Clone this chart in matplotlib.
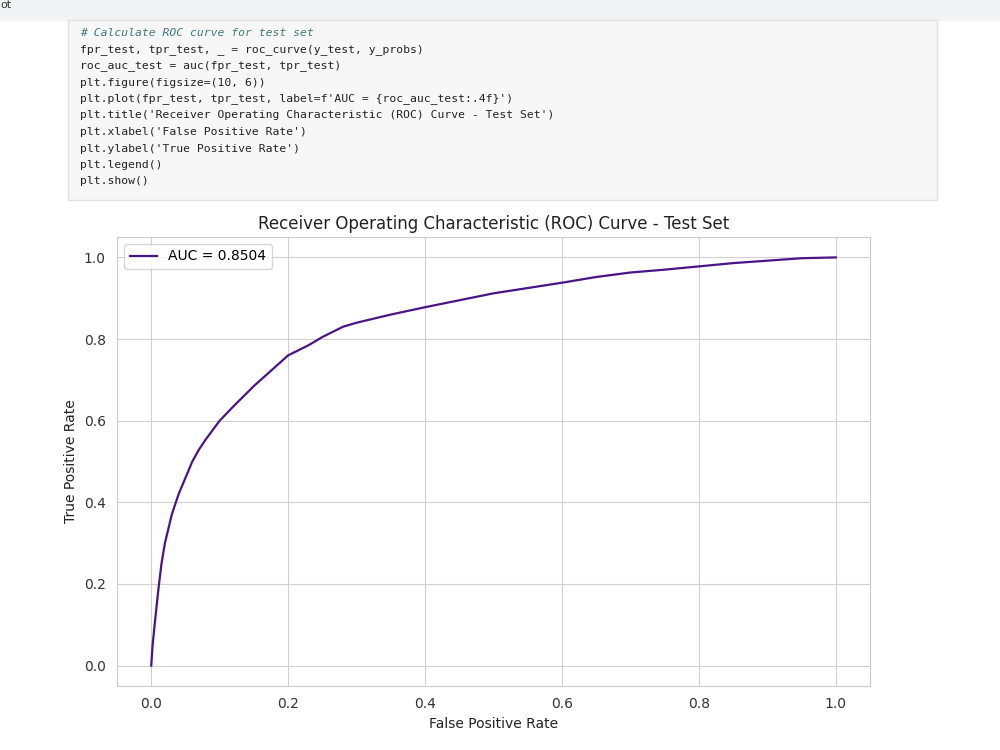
import matplotlib
matplotlib.use("Agg")
import matplotlib.pyplot as plt
from matplotlib.patches import Rectangle

fpr = [0, 0.002, 0.005, 0.01, 0.015, 0.02, 0.03, 0.04, 0.05, 0.06, 0.07, 0.08, 0.1, 0.12, 0.15, 0.18, 0.2,
       0.23, 0.25, 0.28, 0.3, 0.35, 0.4, 0.45, 0.5, 0.55, 0.6, 0.65, 0.7, 0.75, 0.8, 0.85, 0.9, 0.95, 1.0]
tpr = [0, 0.05, 0.1, 0.18, 0.25, 0.3, 0.37, 0.42, 0.46, 0.5, 0.53, 0.555, 0.6, 0.635, 0.685, 0.73, 0.76,
       0.785, 0.805, 0.83, 0.84, 0.86, 0.878, 0.895, 0.912, 0.925, 0.938, 0.952, 0.963, 0.97, 0.978, 0.986, 0.992, 0.998, 1.0]
auc_label = "AUC = 0.8504"

code_lines = [
    ("# Calculate ROC curve for test set", "comment"),
    ("fpr_test, tpr_test, _ = roc_curve(y_test, y_probs)", "code"),
    ("roc_auc_test = auc(fpr_test, tpr_test)", "code"),
    ("plt.figure(figsize=(10, 6))", "code"),
    ("plt.plot(fpr_test, tpr_test, label=f'AUC = {roc_auc_test:.4f}')", "code"),
    ("plt.title('Receiver Operating Characteristic (ROC) Curve - Test Set')", "code"),
    ("plt.xlabel('False Positive Rate')", "code"),
    ("plt.ylabel('True Positive Rate')", "code"),
    ("plt.legend()", "code"),
    ("plt.show()", "code"),
]

W, H = 1000, 750
fig = plt.figure(figsize=(10, 7.5), dpi=100)
fig.patch.set_facecolor("white")

# top bar
fig.add_artist(Rectangle((0, 1 - 20 / H), 1, 20 / H, transform=fig.transFigure, color="#f2f3f5", zorder=0))
fig.text(0, 1 - 5 / H, "ot", fontsize=8, va="center", color="#333")
# code cell
fig.add_artist(Rectangle((68 / W, 1 - 200 / H), 869 / W, 180 / H, transform=fig.transFigure,
                         facecolor="#f7f7f7", edgecolor="#e0e0e0", zorder=0))
for i, (ln, kind) in enumerate(code_lines):
    y = 1 - (33 + i * 16.5) / H
    if kind == "comment":
        fig.text(80 / W, y, ln, fontsize=8.2, family="DejaVu Sans Mono", style="italic",
                 color="#3d7a7a", va="center")
    else:
        fig.text(80 / W, y, ln, fontsize=8.2, family="DejaVu Sans Mono", color="#222", va="center")

ax = fig.add_axes([117 / W, 1 - 686 / H, 753 / W, 449 / H])
ax.plot(fpr, tpr, color="#4a1486", lw=1.6, label=auc_label)
ax.set_xlim(-0.05, 1.05)
ax.set_ylim(-0.05, 1.05)
ax.set_xticks([0, 0.2, 0.4, 0.6, 0.8, 1.0])
ax.set_yticks([0, 0.2, 0.4, 0.6, 0.8, 1.0])
ax.grid(True, color="#d0d0d0", lw=0.8)
ax.set_axisbelow(True)
for s in ax.spines.values():
    s.set_color("#cccccc")
ax.tick_params(length=0, labelsize=10, colors="#333", pad=8)
ax.set_title("Receiver Operating Characteristic (ROC) Curve - Test Set", fontsize=12, color="#222", pad=6)
ax.set_xlabel("False Positive Rate", fontsize=10, color="#222")
ax.set_ylabel("True Positive Rate", fontsize=10, color="#222")
ax.legend(loc="upper left", fontsize=10, frameon=True, edgecolor="#cccccc")

fig.savefig("out.png", dpi=100)
